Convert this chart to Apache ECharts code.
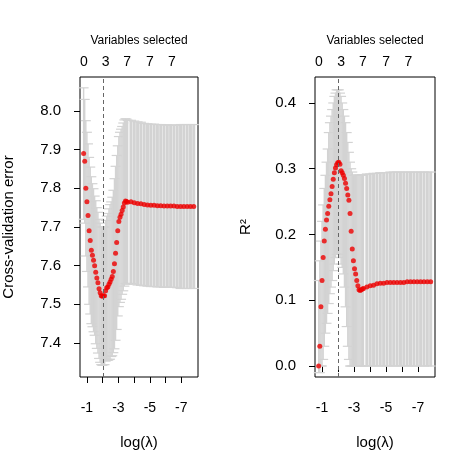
<!DOCTYPE html>
<html>
<head>
<meta charset="utf-8">
<script src="https://cdn.jsdelivr.net/npm/echarts@6/dist/echarts.min.js"></script>
<style>html,body{margin:0;padding:0;background:#fff}#chart{width:474px;height:474px}</style>
</head>
<body>
<div id="chart"></div>
<script>
// log(lambda) path (shared by both panels)
var logLambda = [-0.79,-0.86,-0.93,-1.0,-1.07,-1.14,-1.21,-1.28,-1.35,-1.42,-1.49,-1.56,-1.63,-1.70,-1.77,-1.84,-1.91,-1.98,-2.05,-2.12,
  -2.19,-2.26,-2.33,-2.40,-2.47,-2.54,-2.61,-2.68,-2.75,-2.82,-2.89,-2.96,-3.03,-3.10,-3.17,-3.24,-3.31,-3.38,-3.45,-3.52,-3.59,
  -3.80,-4.01,-4.22,-4.43,-4.64,-4.85,-5.06,-5.27,-5.48,-5.69,-5.90,-6.11,-6.32,-6.53,-6.74,-6.95,-7.16,-7.37,-7.58,-7.79];
// cross-validation error (mean) and its standard error
var cvErr = [7.89,7.87,7.80,7.765,7.73,7.69,7.665,7.64,7.627,7.614,7.60,7.583,7.568,7.556,7.54,7.53,7.522,7.521,7.522,7.522,
  7.535,7.543,7.545,7.552,7.558,7.565,7.572,7.585,7.605,7.632,7.66,7.69,7.714,7.725,7.733,7.743,7.752,7.762,7.767,7.766,7.764,
  7.765,7.763,7.761,7.760,7.758,7.757,7.756,7.756,7.755,7.755,7.754,7.754,7.754,7.754,7.753,7.753,7.753,7.753,7.753,7.753];
var cvSe = [.17,.16,.175,.18,.185,.19,.19,.19,.185,.185,.18,.185,.182,.182,.18,.18,.178,.179,.178,.178,
  .182,.185,.19,.195,.2,.2,.205,.21,.22,.225,.225,.22,.22,.22,.22,.217,.217,.215,.213,.213,.212,
  .211,.211,.211,.211,.21,.21,.21,.21,.21,.21,.21,.21,.21,.21,.21,.212,.212,.212,.212,.212];
// R^2 with lower / upper bounds
var r2 = [0.0,0.03,0.09,0.13,0.165,0.19,0.208,0.222,0.232,0.243,0.253,0.262,0.273,0.284,0.294,0.301,0.306,0.309,0.31,0.307,
  0.297,0.294,0.290,0.285,0.278,0.27,0.26,0.252,0.232,0.205,0.178,0.16,0.148,0.14,0.13,0.122,0.116,0.115,0.116,0.117,0.118,
  0.120,0.122,0.123,0.125,0.126,0.126,0.127,0.127,0.127,0.127,0.127,0.127,0.128,0.128,0.128,0.128,0.128,0.128,0.128,0.128];
var r2Up = [.13,.16,.19,.22,.245,.27,.29,.31,.33,.355,.37,.38,.39,.40,.41,.415,.42,.42,.42,.415,
  .41,.40,.39,.38,.37,.355,.34,.325,.31,.30,.295,.29,.29,.29,.29,.29,.29,.29,.29,.291,.291,
  .292,.292,.293,.293,.294,.294,.294,.295,.295,.295,.295,.295,.295,.295,.295,.295,.295,.295,.295,.295];
var r2Lo = [-.01,-.01,0,0,.01,.03,.05,.065,.08,.095,.11,.12,.13,.145,.155,.165,.17,.17,.17,.165,
  .155,.15,.14,.12,.09,.06,.03,.01,0,0,0,0,0,0,0,0,0,0,0,0,0,
  0,0,0,0,0,0,0,0,0,0,0,0,0,0,0,0,0,0,0,0];
// axis ticks
var xTicks = [-1,-2,-3,-4,-5,-6,-7];
var xLabels = [-1,-3,-5,-7];
var topPos = [-0.81,-2.19,-3.56,-5.0,-6.4];
var topLabels = ['0','3','7','7','7'];
var cvTicks = [7.4,7.5,7.6,7.7,7.8,7.9,8.0];
var r2Ticks = [0.0,0.1,0.2,0.3,0.4];
var lambdaMin = -2.04;

var font = 'Liberation Sans, Arial, sans-serif';
var chart = echarts.init(document.getElementById('chart'));

function errBars() {
  return function (params, api) {
    var a = api.coord([api.value(0), api.value(1)]);
    var b = api.coord([api.value(0), api.value(2)]);
    var x = api.value(0);
    var st = {stroke: '#d3d3d3', lineWidth: x < -3.7 ? 3 : 1.4};
    var cap = {stroke: '#d3d3d3', lineWidth: 1.2};
    return {type: 'group', children: [
      {type: 'line', shape: {x1: a[0], y1: a[1], x2: b[0], y2: b[1]}, style: st},
      {type: 'line', shape: {x1: a[0] - 5, y1: a[1], x2: a[0] + 5, y2: a[1]}, style: cap},
      {type: 'line', shape: {x1: b[0] - 5, y1: b[1], x2: b[0] + 5, y2: b[1]}, style: cap}
    ]};
  };
}

function bottomAxis(gi) {
  return {gridIndex: gi, type: 'value', position: 'bottom', inverse: true, min: -8.06, max: -0.56,
    axisLine: {show: false}, splitLine: {show: false},
    axisTick: {show: true, length: 6, lineStyle: {color: '#000'}, customValues: xTicks},
    axisLabel: {customValues: xLabels, color: '#000', fontSize: 14, fontFamily: font, margin: 24},
    name: 'log(λ)', nameLocation: 'middle', nameGap: 58,
    nameTextStyle: {color: '#000', fontSize: 15, fontFamily: font}};
}
function topAxis(gi) {
  return {gridIndex: gi, type: 'value', position: 'top', inverse: true, min: -8.06, max: -0.56,
    axisLine: {show: false}, splitLine: {show: false}, axisTick: {show: false},
    axisLabel: {customValues: topPos, color: '#000', fontSize: 14, fontFamily: font, margin: 8,
      formatter: function (v) { var i = topPos.indexOf(v); return i >= 0 ? topLabels[i] : ''; }},
    name: 'Variables selected', nameLocation: 'middle', nameGap: 30,
    nameTextStyle: {color: '#000', fontSize: 12, fontFamily: font}};
}
function yAxis(gi, min, max, ticks, name, gap, dec) {
  return {gridIndex: gi, type: 'value', min: min, max: max,
    axisLine: {show: false}, splitLine: {show: false},
    axisTick: {show: true, length: 6, lineStyle: {color: '#000'}, customValues: ticks},
    axisLabel: {customValues: ticks, color: '#000', fontSize: 15, fontFamily: font, margin: 19,
      formatter: function (v) { return v.toFixed(dec); }},
    name: name, nameLocation: 'middle', nameGap: gap, nameRotate: 90,
    nameTextStyle: {color: '#000', fontSize: 15, fontFamily: font}};
}

var cvBars = [], cvPts = [], rBars = [], rPts = [];
for (var i = 0; i < logLambda.length; i++) {
  cvBars.push([logLambda[i], cvErr[i] - cvSe[i], cvErr[i] + cvSe[i]]);
  cvPts.push([logLambda[i], cvErr[i]]);
  rBars.push([logLambda[i], r2Lo[i], r2Up[i]]);
  rPts.push([logLambda[i], r2[i]]);
}

var vline = {silent: true, symbol: 'none', label: {show: false},
  lineStyle: {color: '#666', type: [4, 3], width: 1}, data: [{xAxis: lambdaMin}]};

chart.setOption({
  animation: false,
  grid: [
    {left: 78, top: 77, width: 120, height: 300, show: true, borderColor: '#000', borderWidth: 1},
    {left: 315, top: 77, width: 120, height: 300, show: true, borderColor: '#000', borderWidth: 1}
  ],
  xAxis: [bottomAxis(0), topAxis(0), bottomAxis(1), topAxis(1)],
  yAxis: [
    yAxis(0, 7.312, 8.088, cvTicks, 'Cross-validation error', 64, 1),
    yAxis(1, -0.0167, 0.4395, r2Ticks, 'R²', 62, 1)
  ],
  series: [
    {type: 'custom', xAxisIndex: 0, yAxisIndex: 0, renderItem: errBars(), data: cvBars, z: 1},
    {type: 'scatter', xAxisIndex: 0, yAxisIndex: 0, data: cvPts, symbolSize: 5,
      itemStyle: {color: '#ee0000'}, z: 3, markLine: vline},
    {type: 'custom', xAxisIndex: 2, yAxisIndex: 1, renderItem: errBars(), data: rBars, z: 1},
    {type: 'scatter', xAxisIndex: 2, yAxisIndex: 1, data: rPts, symbolSize: 5,
      itemStyle: {color: '#ee0000'}, z: 3, markLine: vline}
  ]
});
</script>
</body>
</html>
